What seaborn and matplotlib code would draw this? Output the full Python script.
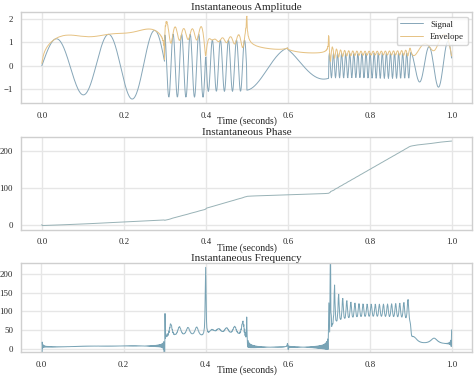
import numpy as np
import pandas as pd
import matplotlib
matplotlib.use("Agg")
import matplotlib.pyplot as plt
import seaborn as sns

# piecewise test signal, parameters
fs = 1000
seg_start = [0.0, 0.3, 0.4, 0.5, 0.6, 0.7, 0.9]
seg_end = [0.3, 0.4, 0.5, 0.6, 0.7, 0.9, 1.0]
freq_start = [7.0, 48.0, 51.0, 4.5, 4.5, 100.8, 21.7]
freq_end = [9.6, 48.0, 51.0, 4.5, 4.5, 100.8, 21.7]
amp_start = [1.10, 1.35, 1.10, 1.05, 0.80, 0.52, 0.60]
amp_end = [1.55, 1.35, 1.10, 0.80, 0.55, 0.55, 1.08]
phase_start = [0.0, 1.8, 2.8, -1.57, 2.1, 0.9, 1.9]

t = np.arange(fs) / fs
signal = np.zeros_like(t)
for s0, s1, f0, f1, a0, a1, p0 in zip(seg_start, seg_end, freq_start, freq_end,
                                      amp_start, amp_end, phase_start):
    m = (t >= s0) & (t < s1)
    tau = t[m] - s0
    dur = s1 - s0
    ph = p0 + 2 * np.pi * (f0 * tau + (f1 - f0) * tau ** 2 / (2 * dur))
    signal[m] = (a0 + (a1 - a0) * tau / dur) * np.sin(ph)

# analytic signal (hilbert via fft)
n = len(signal)
h = np.zeros(n)
h[0] = 1
h[1:n // 2] = 2
h[n // 2] = 1
analytic = np.fft.ifft(np.fft.fft(signal) * h)
envelope = np.abs(analytic)
inst_phase = np.unwrap(np.angle(analytic))
inst_freq = np.diff(inst_phase) / (2 * np.pi) * fs

sns.set_theme(style="whitegrid")
plt.rcParams['font.family'] = ['Liberation Serif', 'DejaVu Serif']
plt.rcParams['axes.edgecolor'] = '#cfcfcf'
plt.rcParams['grid.color'] = '#e6e6e6'

fig = plt.figure(figsize=(4.74, 3.78), dpi=100)
ax1 = fig.add_axes([0.045, 0.727, 0.951, 0.241])
ax2 = fig.add_axes([0.045, 0.392, 0.951, 0.246])
ax3 = fig.add_axes([0.045, 0.068, 0.951, 0.236])

c_sig = '#86a6b8'
c_env = '#e6c283'

sns.lineplot(x=t, y=signal, ax=ax1, color=c_sig, linewidth=0.7, label='Signal')
sns.lineplot(x=t, y=envelope, ax=ax1, color=c_env, linewidth=0.7, label='Envelope')
ax1.set_title('Instantaneous Amplitude', fontsize=8, pad=1.5)
ax1.legend(loc='upper right', fontsize=6.5, frameon=True, handlelength=2.5)

sns.lineplot(x=t, y=inst_phase, ax=ax2, color='#98b2b6', linewidth=0.7)
ax2.set_title('Instantaneous Phase', fontsize=8, pad=1.5)

sns.lineplot(x=t[1:], y=inst_freq, ax=ax3, color='#78a3b5', linewidth=0.7)
ax3.set_title('Instantaneous Frequency', fontsize=8, pad=1.5)
ax3.set_ylim(-8, 228)

for ax in (ax1, ax2, ax3):
    ax.set_xlabel('Time (seconds)', fontsize=7, labelpad=-2)
    ax.tick_params(labelsize=6.3, pad=0)
    ax.set_xticks([0.0, 0.2, 0.4, 0.6, 0.8, 1.0])
    for sp in ax.spines.values():
        sp.set_linewidth(1.0)

ax1.set_yticks([-1, 0, 1, 2])
ax2.set_yticks([0, 100, 200])
ax3.set_yticks([0, 50, 100, 150, 200])

fig.savefig('out.png', dpi=100)
